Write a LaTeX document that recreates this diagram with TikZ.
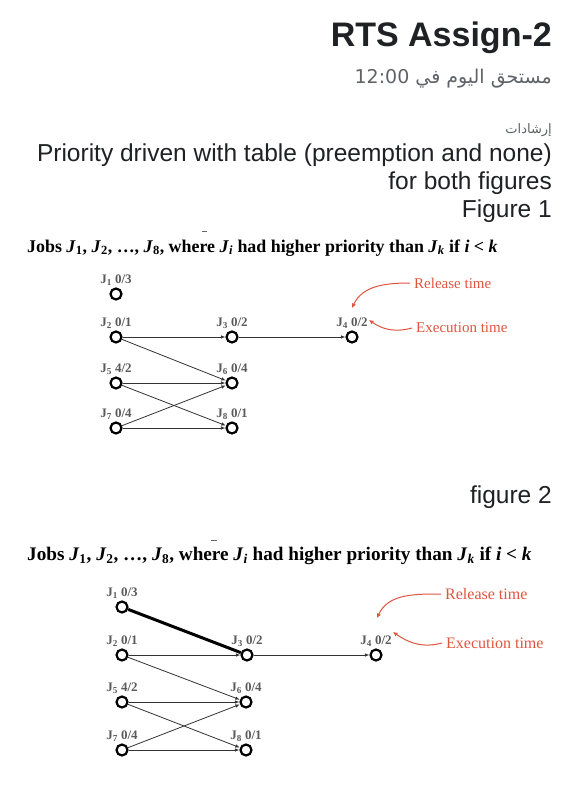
\documentclass[tikz,border=0pt]{standalone}
\usepackage{fontspec}
\setmainfont{Liberation Serif}
\setsansfont{Liberation Sans}
\newfontfamily\arabicfont[Script=Arabic]{DejaVu Sans}
\TeXXeTstate=1
\usetikzlibrary{arrows.meta}
\definecolor{hdrblack}{HTML}{202124}
\definecolor{subgray}{HTML}{5F6368}
\definecolor{lblgray}{HTML}{5A5A5A}
\definecolor{annred}{HTML}{E0553F}
\newcommand{\Jsub}[1]{\textit{J}\textsubscript{#1}}
\tikzset{
  job/.style={circle,draw=black,line width=2.2pt,minimum size=11pt,inner sep=0pt},
  joblbl/.style={font=\bfseries\fontsize{13}{14}\selectfont,text=lblgray,inner sep=0pt},
  dep/.style={-{Latex[length=4.5pt,width=3.5pt]},draw=black!80,line width=0.8pt},
  note/.style={font=\fontsize{15}{16}\selectfont,text=annred,anchor=west,inner sep=0pt},
  notearrow/.style={-{Latex[length=4.5pt,width=4.5pt]},draw=annred,line width=1pt},
  hdrtxt/.style={font=\sffamily\fontsize{24.5}{28}\selectfont,text=hdrblack,anchor=base east,inner sep=0pt},
  jobstitle/.style={font=\bfseries\fontsize{17.9}{19}\selectfont,anchor=base west,inner sep=0pt},
  every label/.style={joblbl},
  label distance=2pt
}
\begin{document}
\begin{tikzpicture}[x=1pt,y=-1pt]
  \useasboundingbox[fill=white] (0,0) rectangle (576,792);
  % header
  \node[hdrtxt,font=\sffamily\bfseries\fontsize{34}{40}\selectfont] (title) at (552,47) {RTS Assign-2};
  \node[hdrtxt,font=\arabicfont\fontsize{19}{22}\selectfont,text=subgray] (due) at (552,84) {\beginR مستحق اليوم في \beginL12:00\endL\endR};
  \node[hdrtxt,font=\arabicfont\fontsize{13}{15}\selectfont,text=subgray] (instr) at (552,133) {\beginR إرشادات\endR};
  \node[hdrtxt] (task1) at (552,161) {Priority driven with table (preemption and none)};
  \node[hdrtxt] (task2) at (552,189) {for both figures};
  \node[hdrtxt] (fig1) at (552,217) {Figure 1};
  % figure 1
  \draw[black!60,line width=1pt] (202,231) -- (207,231);
  \node[jobstitle] (jobs1) at (27,252) {Jobs \Jsub{1}, \Jsub{2}, \dots, \Jsub{8}, where \Jsub{\textit{i}} had higher priority than \Jsub{\textit{k}} if \textit{i} < \textit{k}};
  \node[job,label=above:J\textsubscript{1} 0/3] (a1) at (116,294) {};
  \node[job,label=above:J\textsubscript{2} 0/1] (a2) at (116,337) {};
  \node[job,label=above:J\textsubscript{3} 0/2] (a3) at (232,337) {};
  \node[job,label=above:J\textsubscript{4} 0/2] (a4) at (352,337) {};
  \node[job,label=above:J\textsubscript{5} 4/2] (a5) at (116,383) {};
  \node[job,label=above:J\textsubscript{6} 0/4] (a6) at (232,383) {};
  \node[job,label=above:J\textsubscript{7} 0/4] (a7) at (116,428) {};
  \node[job,label=above:J\textsubscript{8} 0/1] (a8) at (232,428) {};
  \draw[dep] (a2) -- (a3);
  \draw[dep] (a3) -- (a4);
  \draw[dep] (a2) -- (a6);
  \draw[dep] (a5) -- (a6);
  \draw[dep] (a5) -- (a8);
  \draw[dep] (a7) -- (a6);
  \draw[dep] (a7) -- (a8);
  \node[note] (rel1) at (414,283) {Release time};
  \node[note] (exe1) at (416,328) {Execution time};
  \coordinate (rel1tip) at (352,308);
  \coordinate (exe1tip) at (369,320);
  \draw[notearrow] ([xshift=-4pt]rel1.west) to[out=180,in=65] (rel1tip);
  \draw[notearrow] ([xshift=-4pt]exe1.west) to[out=195,in=-35] (exe1tip);
  % figure 2
  \node[hdrtxt] (fig2) at (552,503) {figure 2};
  \draw[black!60,line width=1pt] (211,540) -- (217,540);
  \node[jobstitle,font=\bfseries\fontsize{19.2}{20}\selectfont] (jobs2) at (27,560) {Jobs \Jsub{1}, \Jsub{2}, \dots, \Jsub{8}, where \Jsub{\textit{i}} had higher priority than \Jsub{\textit{k}} if \textit{i} < \textit{k}};
  \node[job,label=above:J\textsubscript{1} 0/3] (b1) at (122,607) {};
  \node[job,label=above:J\textsubscript{2} 0/1] (b2) at (122,655) {};
  \node[job,label=above:J\textsubscript{3} 0/2] (b3) at (247,655) {};
  \node[job,label=above:J\textsubscript{4} 0/2] (b4) at (376,655) {};
  \node[job,label=above:J\textsubscript{5} 4/2] (b5) at (122,702) {};
  \node[job,label=above:J\textsubscript{6} 0/4] (b6) at (246,702) {};
  \node[job,label=above:J\textsubscript{7} 0/4] (b7) at (122,750) {};
  \node[job,label=above:J\textsubscript{8} 0/1] (b8) at (246,750) {};
  \draw[line width=3pt] (b1) -- (b3);
  \draw[dep] (b2) -- (b3);
  \draw[dep] (b3) -- (b4);
  \draw[dep] (b2) -- (b6);
  \draw[dep] (b5) -- (b6);
  \draw[dep] (b5) -- (b8);
  \draw[dep] (b7) -- (b6);
  \draw[dep] (b7) -- (b8);
  \node[note,font=\fontsize{16}{17}\selectfont] (rel2) at (445,594) {Release time};
  \node[note,font=\fontsize{16}{17}\selectfont] (exe2) at (446,643) {Execution time};
  \coordinate (rel2tip) at (377,618);
  \coordinate (exe2tip) at (393,632);
  \draw[notearrow] ([xshift=-4pt]rel2.west) to[out=180,in=65] (rel2tip);
  \draw[notearrow] ([xshift=-4pt]exe2.west) to[out=195,in=-35] (exe2tip);
\end{tikzpicture}
\end{document}
